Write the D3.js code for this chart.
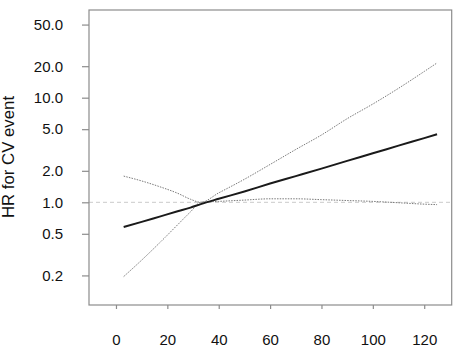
<!DOCTYPE html>
<html>
<head>
<meta charset="utf-8">
<script src="https://cdn.jsdelivr.net/npm/d3@7"></script>
<style>
  html, body { margin: 0; padding: 0; background: #fff; }
  svg { display: block; }
  text { font-family: "Liberation Sans", Arial, Helvetica, sans-serif; }
</style>
</head>
<body>
<svg id="chart" width="474" height="361"></svg>
<script>
// ---- data ----
const xTicks = [0, 20, 40, 60, 80, 100, 120];
const yTicks = [0.2, 0.5, 1.0, 2.0, 5.0, 10.0, 20.0, 50.0];
const yTickLabels = ["0.2", "0.5", "1.0", "2.0", "5.0", "10.0", "20.0", "50.0"];

const xValues    = [3, 10, 17, 24, 29, 33, 40, 50, 60, 70, 80, 90, 100, 110, 120, 125];
const hrValues   = [0.58, 0.65, 0.73, 0.82, 0.89, 0.96, 1.08, 1.27, 1.51, 1.78, 2.10, 2.49, 2.94, 3.48, 4.11, 4.47];
const upperValues= [1.78, 1.60, 1.41, 1.22, 1.07, 1.00, 1.23, 1.66, 2.30, 3.20, 4.40, 6.30, 8.70, 12.3, 17.8, 21.5];
const lowerValues= [0.195, 0.28, 0.41, 0.61, 0.81, 1.00, 1.02, 1.05, 1.08, 1.08, 1.06, 1.04, 1.02, 0.99, 0.96, 0.95];
const refValue = 1.0;
const yTitle = "HR for CV event";

// ---- layout ----
const svg = d3.select("#chart");
const plot = { left: 89, right: 451.7, top: 10, bottom: 305 };

const x = d3.scaleLinear().domain([-10.5, 130.7]).range([plot.left, plot.right]);
const y = d3.scaleLog().domain([0.1043, 68.9]).range([plot.bottom, plot.top]);

const fontSize = 15;
const textColor = "#111";
const frameColor = "#8c8c8c";

// reference line
svg.append("line")
  .attr("x1", plot.left).attr("x2", plot.right)
  .attr("y1", y(refValue)).attr("y2", y(refValue))
  .attr("stroke", "#cacaca").attr("stroke-width", 1)
  .attr("stroke-dasharray", "4,3");

const mk = vals => xValues.map((d, i) => [d, vals[i]]);
const line = d3.line().x(d => x(d[0])).y(d => y(d[1])).curve(d3.curveMonotoneX);

// CI lines
[upperValues, lowerValues].forEach(vals => {
  svg.append("path")
    .attr("d", line(mk(vals)))
    .attr("fill", "none")
    .attr("stroke", "#7a7a7a")
    .attr("stroke-width", 1)
    .attr("stroke-dasharray", "1.5,1.2");
});

// HR line
svg.append("path")
  .attr("d", line(mk(hrValues)))
  .attr("fill", "none")
  .attr("stroke", "#1a1a1a")
  .attr("stroke-width", 2);

// frame
svg.append("rect")
  .attr("x", plot.left).attr("y", plot.top)
  .attr("width", plot.right - plot.left).attr("height", plot.bottom - plot.top)
  .attr("fill", "none").attr("stroke", frameColor).attr("stroke-width", 1.2);

// y axis
const yAxis = d3.axisLeft(y)
  .tickValues(yTicks)
  .tickFormat((d, i) => yTickLabels[i])
  .tickSize(7).tickSizeOuter(0).tickPadding(19);
const gy = svg.append("g").attr("transform", `translate(${plot.left},0)`).call(yAxis);
gy.select(".domain").remove();
gy.selectAll(".tick line").attr("stroke", frameColor).attr("stroke-width", 1.2);
gy.selectAll(".tick text").attr("font-size", fontSize).attr("fill", textColor)
  .attr("font-family", "'Liberation Sans', Arial, sans-serif");

// x axis
const xAxis = d3.axisBottom(x)
  .tickValues(xTicks)
  .tickFormat(d3.format("d"))
  .tickSize(4).tickSizeOuter(0).tickPadding(25);
const gx = svg.append("g").attr("transform", `translate(0,${plot.bottom})`).call(xAxis);
gx.select(".domain").remove();
gx.selectAll(".tick line").attr("stroke", frameColor).attr("stroke-width", 1.2);
gx.selectAll(".tick text").attr("font-size", fontSize).attr("fill", textColor)
  .attr("font-family", "'Liberation Sans', Arial, sans-serif");

// y title
svg.append("text")
  .attr("transform", "translate(13.5,157) rotate(-90)")
  .attr("text-anchor", "middle")
  .attr("font-size", 16.8)
  .attr("fill", textColor)
  .text(yTitle);
</script>
</body>
</html>
